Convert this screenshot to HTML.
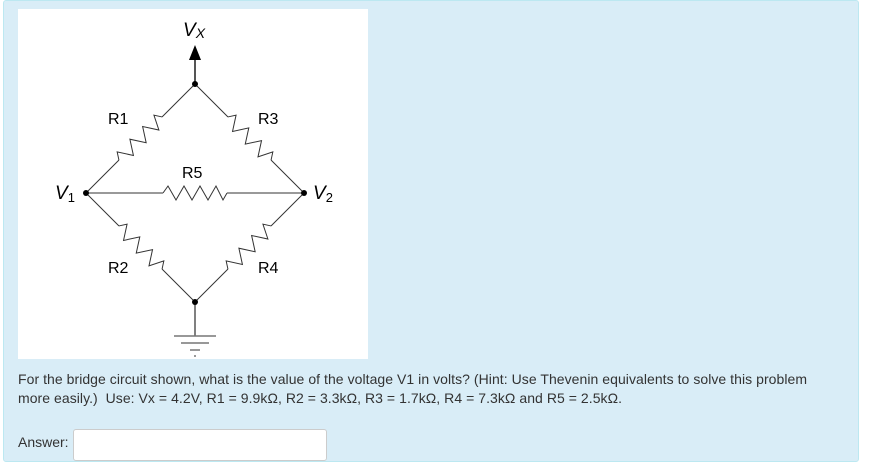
<!DOCTYPE html>
<html><head><style>
body{margin:0;width:880px;height:448px;overflow:hidden;background:#fff;font-family:"Liberation Sans",sans-serif;}
.panel{position:absolute;left:3px;top:0;width:854px;height:460px;background:#d9edf7;border:1px solid #bce8f1;border-radius:3px;}
.img{position:absolute;left:18px;top:9px;width:350px;height:350px;background:#fff;}
.q{position:absolute;left:18px;top:370px;font-size:14px;line-height:19px;color:#333;width:840px;letter-spacing:0.05px;}
.ans{position:absolute;left:18px;top:434px;font-size:14px;color:#333;}
.inp{position:absolute;left:73px;top:429px;width:252px;height:30px;background:#fff;border:1px solid #ccc;border-radius:3px;}
</style></head><body>
<div class="panel"></div>
<div class="img">
<svg width="350" height="350" viewBox="18 9 350 350" xmlns="http://www.w3.org/2000/svg">
<g stroke="#333" fill="none" stroke-width="1">
<line x1="86" y1="193" x2="119" y2="160"/><line x1="162" y1="117" x2="195" y2="84"/>
<g transform="translate(140.5,138.5) rotate(-45)"><polyline points="-30.5,0 -26,-7 -17,7 -8,-7 1,7 10,-7 19,7 26,-7 30.5,0"/></g>
<line x1="195" y1="84" x2="228" y2="117"/><line x1="271" y1="160" x2="304" y2="193"/>
<g transform="translate(249.5,138.5) rotate(45)"><polyline points="-30.5,0 -26,-7 -17,7 -8,-7 1,7 10,-7 19,7 26,-7 30.5,0"/></g>
<line x1="86" y1="193" x2="119" y2="226"/><line x1="162" y1="269" x2="195" y2="302"/>
<g transform="translate(140.5,247.5) rotate(45)"><polyline points="-30.5,0 -26,-7 -17,7 -8,-7 1,7 10,-7 19,7 26,-7 30.5,0"/></g>
<line x1="304" y1="193" x2="271" y2="226"/><line x1="228" y1="269" x2="195" y2="302"/>
<g transform="translate(249.5,247.5) rotate(-45)"><polyline points="-30.5,0 -26,-7 -17,7 -8,-7 1,7 10,-7 19,7 26,-7 30.5,0"/></g>
<line x1="86" y1="193" x2="163" y2="193"/><line x1="227" y1="193" x2="304" y2="193"/>
<polyline points="163,193 168,186 176,200 184,186 192,200 200,186 208,200 216,186 223,200 227,193"/>
<line x1="195" y1="302" x2="195" y2="336" stroke="#555" stroke-width="1.5"/>
<line x1="174" y1="336" x2="216" y2="336" stroke="#777" stroke-width="1.5"/>
<line x1="181" y1="343" x2="209" y2="343" stroke="#777" stroke-width="1.5"/>
<line x1="190" y1="350" x2="200" y2="350" stroke="#777" stroke-width="1.5"/>
<line x1="194" y1="356" x2="196" y2="356" stroke="#777" stroke-width="1.5"/>
<line x1="195" y1="84" x2="195" y2="58" stroke="#555" stroke-width="2"/>
</g>
<polygon points="195,45 189,60 201,60" fill="#000"/>
<g fill="#000"><circle cx="195" cy="84" r="3"/><circle cx="86" cy="193" r="3"/><circle cx="304" cy="193" r="3"/><circle cx="195" cy="302" r="3"/></g>
<g font-family="Liberation Sans,sans-serif" font-size="16" fill="#000">
<text x="108" y="124">R1</text><text x="258" y="124">R3</text><text x="182" y="178">R5</text>
<text x="108" y="273">R2</text><text x="258" y="273">R4</text>
<text x="183" y="36" font-style="italic" font-size="19">V<tspan font-size="14" dy="2">X</tspan></text>
<text x="55" y="199" font-style="italic" font-size="19">V<tspan font-style="normal" font-size="13" dy="3">1</tspan></text>
<text x="313" y="199" font-style="italic" font-size="19">V<tspan font-style="normal" font-size="13" dy="3">2</tspan></text>
</g>
</svg>
</div>
<div class="q">For the bridge circuit shown, what is the value of the voltage V1 in volts? (Hint: Use Thevenin equivalents to solve this problem<br>more easily.)&nbsp; Use: Vx = 4.2V, R1 = 9.9kΩ, R2 = 3.3kΩ, R3 = 1.7kΩ, R4 = 7.3kΩ and R5 = 2.5kΩ.</div>
<div class="ans">Answer:</div>
<div class="inp"></div>
</body></html>
